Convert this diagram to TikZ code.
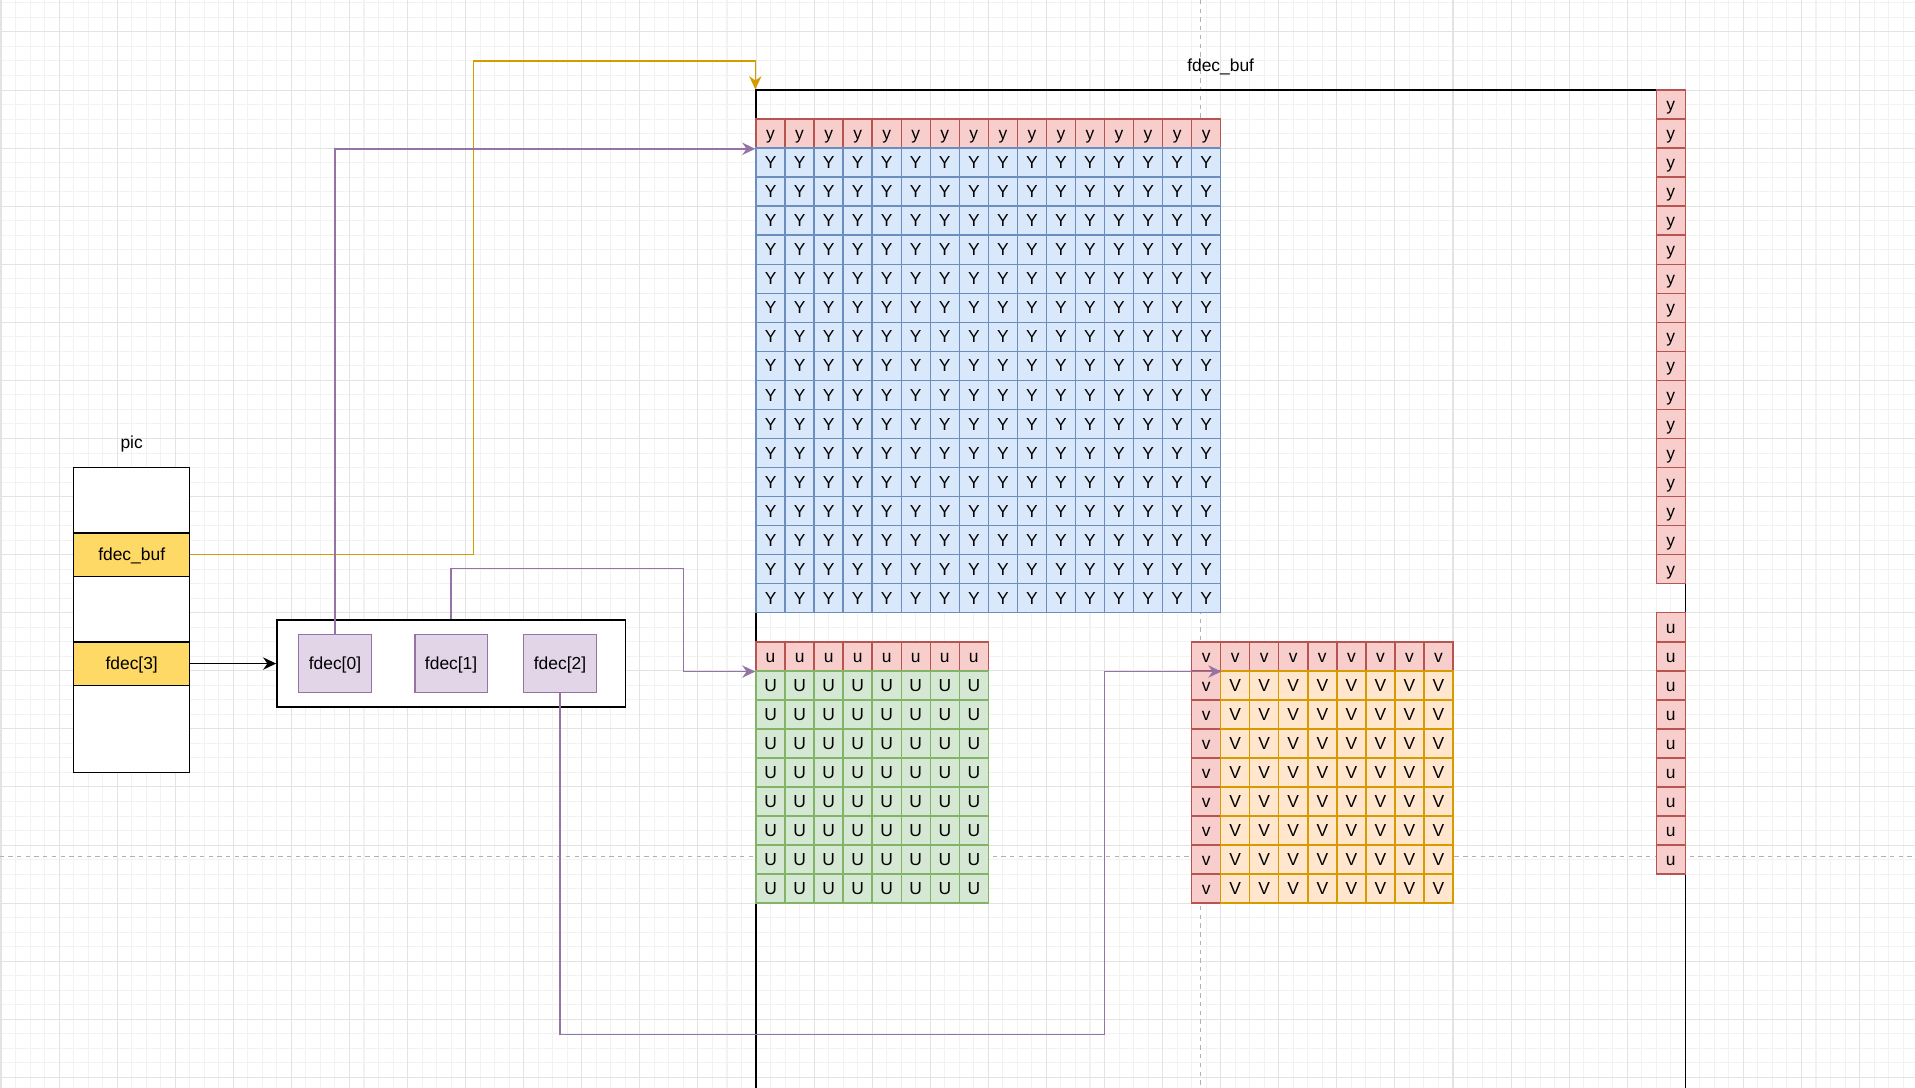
\documentclass[tikz,border=0pt]{standalone}
\usepackage{fontspec}
\setmainfont{Liberation Sans}
\usepackage{tikz}
\usetikzlibrary{arrows.meta}

\definecolor{redfill}{HTML}{F8CECC}
\definecolor{redline}{HTML}{B85450}
\definecolor{bluefill}{HTML}{DAE8FC}
\definecolor{blueline}{HTML}{6C8EBF}
\definecolor{greenfill}{HTML}{D5E8D4}
\definecolor{greenline}{HTML}{82B366}
\definecolor{orangefill}{HTML}{FFE6CC}
\definecolor{orangeline}{HTML}{D79B00}
\definecolor{purplefill}{HTML}{E1D5E7}
\definecolor{purpleline}{HTML}{9673A6}
\definecolor{fieldfill}{HTML}{FFD966}

\begin{document}
\begin{tikzpicture}[
	x=1pt, y=-1pt, line width=1pt,
	every node/.style={font=\fontsize{12}{14}\selectfont, text height=10.9pt, text depth=2.5pt, inner sep=3.33pt},
	cell/.style={rectangle,draw,minimum size=20pt,inner sep=0pt},
	redcell/.style={cell,fill=redfill,draw=redline},
	bluecell/.style={cell,fill=bluefill,draw=blueline},
	greencell/.style={cell,fill=greenfill,draw=greenline},
	orangecell/.style={cell,fill=orangefill,draw=orangeline},
	picrow/.style={rectangle,draw,fill=white,minimum width=80pt},
	picfield/.style={picrow,fill=fieldfill},
	ptrbox/.style={rectangle,draw=purpleline,fill=purplefill,minimum width=50pt,minimum height=40pt,inner sep=0pt},
	arrbox/.style={rectangle,draw,fill=white,minimum width=240pt,minimum height=60pt},
	gridminor/.style={line width=0.7pt,draw=black!5},
	gridmajor/.style={line width=0.7pt,draw=black!11},
	pagebreak/.style={line width=0.7pt,draw=black!30,dashed},
	karrow/.style={-{Stealth[length=9pt,width=8.5pt]}},
	parrow/.style={karrow,draw=purpleline},
	oarrow/.style={karrow,draw=orangeline}
]
\useasboundingbox (-520.7,-62) rectangle (798.2,687.3);

% Canvas grid
\foreach \gx in {-520,-510,...,790} \draw[gridminor] (\gx,-62) -- (\gx,688);
\foreach \gy in {-60,-50,...,680} \draw[gridminor] (-521,\gy) -- (799,\gy);
\foreach \gx in {-520,-480,...,760} \draw[gridmajor] (\gx,-62) -- (\gx,688);
\foreach \gy in {-40,0,...,680} \draw[gridmajor] (-521,\gy) -- (799,\gy);
\draw[pagebreak] (306.2,-62) -- (306.2,688);
\draw[pagebreak] (-521,528.2) -- (799,528.2);

% fdec buffer frame
\node[draw, minimum width=640pt, minimum height=760pt, inner sep=0pt, label={[label distance=6pt]above:fdec\_buf}] (fbuf) at (320,380) {};

% Y plane
\foreach \c in {1,...,16} {
	\node[redcell] (yt-\c) at ({20*\c-10},30) {y};
	\foreach \r in {1,...,16}
		\node[bluecell] (Y-\r-\c) at ({20*\c-10},{30+20*\r}) {Y};
}

% U plane
\foreach \c in {1,...,8} {
	\node[redcell] (ut-\c) at ({20*\c-10},390) {u};
	\foreach \r in {1,...,8}
		\node[greencell] (U-\r-\c) at ({20*\c-10},{390+20*\r}) {U};
}

% V plane
\foreach \c in {0,...,8}
	\node[redcell] (vt-\c) at ({310+20*\c},390) {v};
\foreach \r in {1,...,8} {
	\node[redcell] (vl-\r) at (310,{390+20*\r}) {v};
	\foreach \c in {1,...,8}
		\node[orangecell] (V-\r-\c) at ({310+20*\c},{390+20*\r}) {V};
}

% Right border columns
\foreach \k in {0,...,16}
	\node[redcell] (ys-\k) at (630,{10+20*\k}) {y};
\foreach \k in {0,...,8}
	\node[redcell] (us-\k) at (630,{370+20*\k}) {u};

% pic struct
\node[picrow, minimum height=45pt, label={[label distance=6pt]above:pic}] (picA) at (-430,282.5) {};
\node[picfield, minimum height=30pt] (picbuf) at (-430,320) {fdec\_buf};
\node[picrow, minimum height=45pt] (picB) at (-430,357.5) {};
\node[picfield, minimum height=30pt] (picfd) at (-430,395) {fdec[3]};
\node[picrow, minimum height=60pt] (picC) at (-430,440) {};

% fdec pointer array
\node[arrbox] (arr) at (-210,395) {};
\node[ptrbox] (fdec0) at (-290,395) {fdec[0]};
\node[ptrbox] (fdec1) at (-210,395) {fdec[1]};
\node[ptrbox] (fdec2) at (-135,395) {fdec[2]};

% Pointers
\draw[karrow] (picfd.east) -- (arr.west);
\draw[oarrow] (picbuf.east) -- ++(195,0) -- ++(0,-340) -| (fbuf.north west);
\draw[parrow] (fdec0.north) |- (yt-1.south west);
\draw[parrow] (arr.north -| fdec1.north) -- ++(0,-35) -- ++(160,0) |- (ut-1.south west);
\draw[parrow] (fdec2.south) -- ++(0,235) -- ++(375,0) |- (vt-0.south east);

\end{tikzpicture}
\end{document}
